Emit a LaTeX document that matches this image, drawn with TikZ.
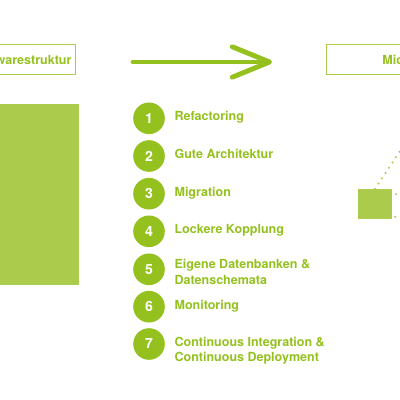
\documentclass[tikz,border=0pt]{standalone}
\usepackage{fontspec}
\setmainfont{TeX Gyre Heros}
\usetikzlibrary{arrows.meta}
\definecolor{leafgreen}{HTML}{95C11F}
\definecolor{palegreen}{HTML}{AACB4B}
\tikzset{
  stepnum/.style={circle, fill=leafgreen, text=white, minimum size=0.79cm, inner sep=0pt,
    font=\bfseries\fontsize{10}{10}\selectfont},
  steptext/.style={anchor=base west, text=leafgreen, align=left, inner sep=0pt,
    font=\bfseries\fontsize{8.9}{11}\selectfont},
  titlebox/.style={draw=palegreen, line width=0.8pt, text=leafgreen, minimum height=0.75cm,
    inner xsep=0.1cm, font=\bfseries\fontsize{8.9}{11}\selectfont},
  dotline/.style={palegreen, line width=1.6pt, line cap=round, dash pattern=on 0pt off 0.158cm},
}
\begin{document}
\begin{tikzpicture}[x=0.025cm, y=-0.025cm]
    \useasboundingbox (0,0) rectangle (400,400);
    \clip (0,0) rectangle (400,400);
    \node (old) [titlebox, anchor=east] at (76,59.6) {Softwarestruktur};
    \node (new) [titlebox, anchor=west, minimum width=4.9cm] at (325.7,59.4) {Microservices};
    \coordinate (from) at (133,62);
    \coordinate (to) at (272,62);
    \draw [leafgreen, line width=3.5pt, line cap=round,
      -{Straight Barb[length=0.93cm, width=0.76cm, round]}] (from) -- (to);
    % monolith and one service
    \fill [palegreen] (-5,104.3) rectangle (79,285);
    \node (svc) [fill=palegreen, minimum width=0.865cm, minimum height=0.75cm, inner sep=0pt] at (375,204) {};
    \coordinate (up) at (412,133);
    \coordinate (r1) at (396,194.3);
    \coordinate (r1e) at (420,194.3);
    \coordinate (r2) at (395.3,216.7);
    \coordinate (r2e) at (420,216.7);
    \draw [dotline] (svc.north) -- (up);
    \draw [dotline] (r1) -- (r1e);
    \draw [dotline] (r2) -- (r2e);
    % steps
    \node (n1) [stepnum] at (149,118.3) {1};
    \node (n2) [stepnum] at (149,156) {2};
    \node (n3) [stepnum] at (149,193.7) {3};
    \node (n4) [stepnum] at (149,231.3) {4};
    \node (n5) [stepnum] at (149,269.3) {5};
    \node (n6) [stepnum] at (149,306.7) {6};
    \node (n7) [stepnum] at (149,344) {7};
    \node (t1) [steptext] at (174.3,120.7) {Refactoring};
    \node (t2) [steptext] at (174.3,158.4) {Gute Architektur};
    \node (t3) [steptext] at (174.3,196.1) {Migration};
    \node (t4) [steptext] at (174.3,233.7) {Lockere Kopplung};
    \node (t5) [steptext] at (174.3,284) {Eigene Datenbanken \&\\Datenschemata};
    \node (t6) [steptext] at (174.3,309.1) {Monitoring};
    \node (t7) [steptext] at (174.3,361.5) {Continuous Integration \&\\Continuous Deployment};
\end{tikzpicture}
\end{document}
